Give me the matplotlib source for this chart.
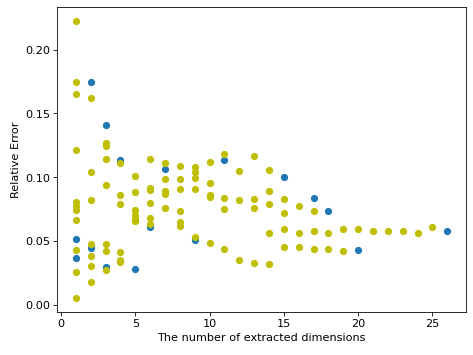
import matplotlib
matplotlib.use("Agg")
import matplotlib.pyplot as plt

# points only visible in blue (the rest of that series sits under the yellow one)
blue_dims = [1, 1, 2, 2, 3, 3, 4, 5, 6, 7, 9, 11, 15, 17, 18, 20, 26]
blue_err = [0.0515, 0.0363, 0.1748, 0.0446, 0.1407, 0.0297, 0.1134, 0.0281,
            0.0610, 0.1062, 0.0504, 0.1136, 0.1001, 0.0837, 0.0735, 0.0425, 0.0576]

yellow_dims = ([1] * 11 + [2] * 7 + [3] * 7 + [4] * 6 + [5] * 6 + [6] * 6 + [7] * 5
               + [8] * 6 + [9] * 5 + [10] * 5 + [11] * 4 + [12] * 3 + [13] * 4
               + [14] * 5 + [15] * 4 + [16] * 3 + [17] * 3 + [18] * 2 + [19] * 2
               + [20, 21, 22, 23, 24, 25])
yellow_err = [0.2226, 0.1748, 0.1654, 0.1216, 0.0802, 0.0770, 0.0743, 0.0664, 0.0425, 0.0252, 0.0053,
              0.1618, 0.1041, 0.0823, 0.0478, 0.0377, 0.0303, 0.0180,
              0.1267, 0.1243, 0.1142, 0.0940, 0.0473, 0.0419, 0.0271,
              0.1108, 0.0857, 0.0791, 0.0411, 0.0351, 0.0331,
              0.1009, 0.0884, 0.0743, 0.0704, 0.0669, 0.0653,
              0.1142, 0.0916, 0.0897, 0.0797, 0.0677, 0.0632,
              0.1108, 0.0982, 0.0889, 0.0869, 0.0757,
              0.1088, 0.0982, 0.0908, 0.0730, 0.0650, 0.0618,
              0.1076, 0.1036, 0.0996, 0.0908, 0.0531,
              0.1116, 0.0956, 0.0863, 0.0845, 0.0483,
              0.1179, 0.0837, 0.0751, 0.0433,
              0.1046, 0.0823, 0.0353,
              0.1166, 0.0829, 0.0757, 0.0329,
              0.1054, 0.0887, 0.0786, 0.0558, 0.0319,
              0.0831, 0.0717, 0.0590, 0.0449,
              0.0770, 0.0558, 0.0449,
              0.0730, 0.0578, 0.0438,
              0.0563, 0.0433,
              0.0592, 0.0417,
              0.0592, 0.0576, 0.0576, 0.0576, 0.0563, 0.0610]

plt.rcParams['font.size'] = 11
fig, ax = plt.subplots(figsize=(6.4, 4.8), dpi=74.06)
fig.subplots_adjust(left=0.121, right=0.983, top=0.979, bottom=0.122)
ax.scatter(blue_dims, blue_err, color='C0')
ax.scatter(yellow_dims, yellow_err, color='y')
ax.set_xlabel("The number of extracted dimensions")
ax.set_ylabel("Relative Error")
fig.savefig("out.png")
